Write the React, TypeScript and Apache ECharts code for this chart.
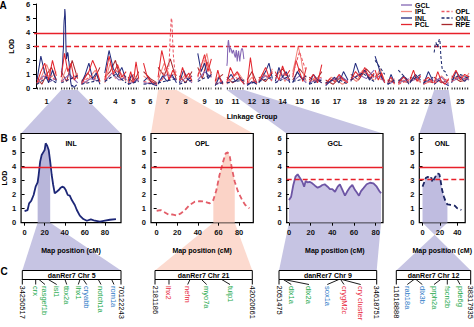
import React, { useEffect, useRef } from 'react';
import * as echarts from 'echarts';

const FONT = '"Liberation Sans", Arial, Helvetica, sans-serif';

// ---------------- Panel A: genome-wide scan ----------------
const LG_NAMES = ['1','2','3','4','5','6','7','8','9','10','11','12','13','14','15','16','17','18','19','20','21','22','23','24','25'];
// extent of each linkage group along the concatenated map axis
const LG_SPANS: number[][] = [[1,21],[26,43],[47,66],[71,93],[95,106],[111,125],[126,145],[148,161],[167,181],[185,193],[197,215],[218,228],[230,244],[247,262],[265,279],[282,295],[299,322],[325,349],[350,360],[363,370],[374,385],[386,397],[400,410],[411,426],[429,447]];

// LOD values per linkage group (null = taken from the zoomed panel B curve)
const PCL_A: (number[] | null)[] = [
  [0.4,1.2,1.8,0.6,2.0,0.9],[0.8,2.5,1.2,1.8,0.6,1.0],[0.3,0.8,1.2,2.0,1.4,0.5],[0.6,2.3,1.0,1.7,0.8,1.2],[0.5,1.2,0.4,1.9,0.7],
  [1.8,0.9,0.6,0.4,0.3],[0.8,2.7,1.6,0.6,1.3,0.9],[0.6,1.5,0.8,1.1,0.5],[0.9,1.6,2.4,1.2,2.1],[0.5,1.3,0.6,0.3],
  [0.4,1.5,0.9,1.2,0.6,0.3],[0.3,2.2,0.6,0.4],[0.5,1.0,1.5,0.8,1.2],[1.2,0.6,1.6,0.9,1.3],[0.8,2.0,1.2,0.5,1.5],
  [0.6,1.0,0.4,1.7],[0.3,0.7,0.5,1.0,0.6,0.4],[0.6,1.2,0.8,1.5,0.7,1.1],[1.3,0.6,1.1,0.4],[0.5,0.8,0.3],
  [0.4,0.8,0.5],[0.6,1.3,0.5,0.9],[0.5,0.8,0.4],[0.4,1.2,0.5,0.3,0.7],[0.7,1.3,0.6,1.0,0.8],
];
const INL_A: (number[] | null)[] = [
  [0.6,2.3,1.1,0.4,1.3,0.5],null,[0.4,1.0,1.8,0.7,1.1,0.3],[1.1,2.7,1.4,0.9,1.5,0.6],[0.3,1.0,0.5,0.8],
  [0.5,0.8,0.3,0.2],[0.3,0.9,0.5,1.0,0.4],[0.4,1.3,0.6,0.9],[2.5,1.2,1.8,0.7,1.0],[0.2,0.8,0.4],
  [0.6,1.0,0.5,0.8,0.3],[0.2,0.5,0.3],[0.4,0.8,1.2,1.8,0.7],[0.5,1.5,0.8,1.2,0.4],[0.4,1.2,0.7,0.9],
  [0.3,1.0,0.6,0.4],[0.2,0.5,0.8,0.4,1.2,0.6],[0.5,1.8,0.9,1.3,0.6,1.0],[2.3,1.6,0.8,0.5],[0.3,1.0,0.4],
  [0.5,0.9,0.3],[0.4,1.0,0.6],[0.3,1.2,0.5],[0.3,0.6,0.4,0.2],[0.4,1.2,0.8,0.5,0.9],
];
const IPL_A: (number[] | null)[] = [
  [0.3,0.9,1.7,0.8,1.2],[0.5,1.5,0.7,1.1],[0.6,0.4,0.9,1.3,0.5],[0.4,1.8,0.7,1.1,0.5],[0.6,1.0,0.5],
  [0.9,0.5,0.4],[0.6,1.8,0.8,1.2],[0.5,1.0,0.6],[1.0,1.4,2.5,0.8],[0.4,0.9,0.3],
  [0.3,0.8,1.1,0.5],[0.4,0.8,0.3],[0.6,1.1,0.7,1.4],[0.7,1.3,0.5,1.0],[1.2,2.0,3.0,2.2,1.0,0.5],
  [0.5,0.8,0.4],[0.4,0.8,0.6,0.3,0.5],[0.8,0.5,1.3,0.9,0.6],[0.6,1.4,0.5],[0.4,0.7],
  [0.3,0.6,0.4],[0.5,0.9,0.4],[0.3,0.6],[0.3,0.9,0.4],[0.6,0.9,0.5,1.1],
];
const RPE_A: (number[] | null)[] = [
  [0.8,0.3,1.0,1.5,0.6],[1.2,0.5,2.0,0.7],[0.5,1.1,0.6,1.5],[0.8,1.2,2.0,0.6,0.9],[0.8,0.4,1.2],
  [1.2,0.7,0.4],[1.5,0.9,2.1,0.6],[0.9,0.4,1.2],[1.5,0.7,1.9,1.1],[0.6,1.0],
  [0.8,0.4,0.7,0.5],[0.6,1.2,0.4],[0.8,0.5,1.1],[0.9,1.4,0.6],[0.6,1.4,0.8],
  [0.8,0.5,1.2],[0.6,0.3,0.8,0.5],[1.0,0.6,1.4,0.8],[0.8,1.1,0.5],[0.6,0.4],
  [0.6,0.4],[0.8,0.5],[0.6,0.4],[0.8,0.4,0.6],[0.9,0.5,0.7],
];
const GCL_A: (number[] | null)[] = [
  [0.4,0.9,0.5,0.7],[0.5,1.0,0.4],[0.3,0.7,0.5],[0.5,1.1,0.6,0.8],[0.3,0.6],
  [0.4,0.3],[0.5,1.0,0.6],[0.3,0.8,0.4],[0.6,1.2,0.8],[0.3,0.5],
  null,[0.3,0.5],[0.5,0.9,0.6],[0.4,0.8,0.5],[0.5,0.9,0.4],
  [0.4,0.7],[0.3,0.6,0.9,0.5],[0.6,1.0,0.7,1.3],[0.7,0.9,0.4],[0.3,0.5],
  [0.4,0.7],[0.5,0.8],[0.4,0.7],[0.5,0.8,0.3],[0.5,0.8,0.6],
];
const OPL_A: (number[] | null)[] = [
  [0.4,1.0,0.6],[0.5,0.8],[0.4,0.9,0.5],[0.6,1.3,0.7],[0.4,0.7],
  [0.5,0.3],null,[0.6,0.9],[0.8,2.3,1.0],[0.3,0.6],
  [0.5,0.8,0.4],[0.4,0.6],[0.6,1.0,0.5],[0.7,1.1,0.6],[1.0,2.6,1.2],
  [0.5,0.8],[0.4,0.7,0.5],[0.6,1.2,0.8],[0.9,0.5],[0.4,0.6],
  [0.3,0.6],[0.5,0.9],[0.3,0.6],[0.4,0.7],[0.5,0.9,0.6],
];
const ONL_A: (number[] | null)[] = [
  [0.3,0.8,0.4],[0.4,0.9],[0.3,0.6],[0.5,1.0,0.4],[0.3,0.5],
  [0.3,0.4],[0.4,0.7],[0.3,0.6],[0.5,1.0],[0.3,0.4],
  [0.4,0.6],[0.3,0.5],[0.5,0.8],[0.4,0.9],[0.5,0.7],
  [0.3,0.6],[0.4,0.7,0.3],[0.6,1.1,0.5],[2.0,1.0],[0.3,0.6],
  [1.3,0.5],[0.5,1.0],[0.4,0.8],null,[0.6,1.0,0.7],
];
const A_THRESH_SOLID = 3.93;
const A_THRESH_DASHED = 3.0;

// ---------------- Panel B: single linkage groups (cM, LOD) ----------------
const INL_B = [[0,0.83],[3,0.9],[4.5,1.37],[6.5,1.54],[9,1.97],[11,2.56],[13,2.87],[14,3.39],[15.5,4.34],[17,4.81],[19,5.05],[20,5.17],[21,5.64],[22.5,5.47],[24,5.17],[25.5,4.34],[27,3.39],[28.5,2.68],[30,2.09],[32,2.2],[34,2.32],[36,2.49],[37.5,2.56],[39.5,2.49],[41,2.32],[43,1.97],[45,1.92],[47,1.61],[50,1.26],[52,0.9],[55,0.5],[58.5,0.26],[62,0.14],[66,0.24],[70,0.14],[75,0.07],[80,0.14],[85,0.21],[91,0.26]];
const OPL_B = [[0,0.85],[4,0.9],[8,0.73],[12,0.55],[15,0.59],[19.5,0.5],[23.5,0.66],[27.5,0.9],[32,1.26],[37,1.49],[42,1.54],[47,1.49],[51.5,1.37],[55,1.61],[58,2.32],[61,3.39],[64.5,4.34],[67,4.93],[69,5.0],[71,4.7],[73,3.86],[75.8,2.91],[79,2.2],[83,1.61],[86,1.26],[90,1.02]];
const GCL_B = [[0,1.61],[2,1.85],[4,2.68],[6,3.27],[8,3.44],[10,3.2],[12.3,2.91],[14,2.56],[15.4,2.96],[17,2.87],[19,2.91],[21.5,2.8],[24,2.63],[26.5,2.49],[28.6,2.56],[30.8,2.68],[33,2.73],[35.7,2.56],[37.8,2.39],[40,2.39],[42.5,2.2],[45,2.56],[47,2.73],[49,2.39],[51.7,1.92],[54,2.25],[56,2.49],[58.5,2.68],[61,2.32],[62.5,2.16],[64.6,1.92],[66.5,2.25],[68.6,2.44],[71.7,2.73],[74.8,2.84],[78,2.8],[81,2.56],[83.4,2.25],[85,2.09]];
const ONL_B = [[0,2.56],[2.2,2.91],[4,3.2],[6.2,3.27],[8.3,3.1],[10.2,3.2],[11.4,2.87],[13.2,3.1],[15.4,3.34],[17.5,3.5],[19.4,3.44],[20.6,3.03],[22.5,2.32],[24.6,1.85],[26.8,1.45],[28.6,1.3],[32.3,1.26],[36.9,1.21],[40,1.02],[44.6,0.9]];
const INL_INTERVAL = [13, 25.5];
const OPL_INTERVAL = [55, 75.8];
const GCL_INTERVAL = [0, 85];
const ONL_INTERVAL = [0, 28.6];
const B_THRESH_SOLID = 3.93;
const B_THRESH_DASHED = 3.1;
const B_TICKS = [0, 20, 40, 60, 80];
const B_YTICKS = [0, 1, 2, 3, 4, 5, 6];

// ---------------- Panel C: syntenic zebrafish chromosome regions ----------------
const CHR_NAMES = ['danRer7 Chr 5', 'danRer7 Chr 21', 'danRer7 Chr 9', 'danRer7 Chr 12'];
const CHR_START = [34250517, 2181186, 2051475, 11618888];
const CHR_END = [70122243, 42020661, 34618751, 38317935];
const CHR5_GENES = ['crx', 'rasgef1b', 'isl1', 'tbx2a', 'lhx1', 'cryabb', 'notch1a', 'rom1a'];
const CHR5_MB = [39.12, 40.32, 43.7, 49.77, 55.22, 56.42, 61.87, 66.74];
const CHR5_KIND = ['g', 'g', 'g', 'g', 'g', 'b', 'g', 'b'];
const CHR21_GENES = ['lhx2', 'nefm', 'myo7a', 'tulp1'];
const CHR21_MB = [7.91, 16.51, 21.22, 29.49];
const CHR21_KIND = ['r', 'r', 'g', 'g'];
const CHR9_GENES = ['dlx1a', 'dlx2a', 'sox1a', 'crygM2c', 'cry cluster'];
const CHR9_MB = [3.48, 3.72, 22.0, 22.6, 23.0];
const CHR9_KIND = ['g', 'g', 'b', 'r', 'r'];
const CHR12_GENES = ['rab18a', 'dlx3b', 'prph2a', 'fscn2b', 'pde6g'];
const CHR12_MB = [17.97, 18.69, 27.55, 29.92, 33.51];
const CHR12_KIND = ['b', 'b', 'g', 'g', 'g'];
// label placement along the chromosome (layout, in Mb)
const CHR_LABEL_MB = [
  [39.12, 42.5, 46.75, 50.4, 54.6, 57.65, 62.85, 67.57],
  [7.91, 15.57, 23.35, 32.89],
  [6.15, 12.05, 18.15, 23.72, 29.28],
  [15.57, 20.95, 25.15, 29.92, 34.48],
];

const KIND_COLOR: Record<string, string> = { g: '#21a84a', b: '#2a78c6', r: '#e8283c' };

// ---------------- styling / layout ----------------
const A_SERIES = [
  { name: 'RPE', data: RPE_A, color: '#a8282c', type: 'solid' },
  { name: 'IPL', data: IPL_A, color: '#f2877e', type: 'solid' },
  { name: 'GCL', data: GCL_A, color: '#8466b4', type: 'solid' },
  { name: 'INL', data: INL_A, color: '#232c7e', type: 'solid' },
  { name: 'PCL', data: PCL_A, color: '#e3262e', type: 'solid' },
  { name: 'OPL', data: OPL_A, color: '#ea5a66', type: 'dashed' },
  { name: 'ONL', data: ONL_A, color: '#1e2a6e', type: 'dashed' },
];
const RED = '#e8202a';

const B_PANELS = [
  { name: 'INL', data: INL_B, band: INL_INTERVAL, lg: 1, left: 21, width: 100, min: -3.5, max: 96, color: '#1d2777', dashed: false, fill: '#b8b6da', wedge: '#c6c4e3', thr2: false, cross: false, wedgeTo: 96, yName: true },
  { name: 'OPL', data: OPL_B, band: OPL_INTERVAL, lg: 6, left: 151, width: 102.3, min: -5.5, max: 93.8, color: '#e35e69', dashed: true, fill: '#fbd3c7', wedge: '#fcdacf', thr2: false, cross: false, wedgeTo: 93.8, yName: false },
  { name: 'GCL', data: GCL_B, band: GCL_INTERVAL, lg: 10, left: 286.7, width: 96.3, min: -2.1, max: 86.8, color: '#6d55a5', dashed: false, fill: '#cbc6e5', wedge: '#c6c4e3', thr2: true, cross: false, wedgeTo: 86.8, yName: false },
  { name: 'ONL', data: ONL_B, band: ONL_INTERVAL, lg: 23, left: 419.3, width: 57, min: -3.7, max: 49, color: '#1b2462', dashed: true, fill: '#bfbce0', wedge: '#c6c4e3', thr2: true, cross: true, wedgeTo: 38, yName: false },
];
const B_TOP = 133.5, B_HEIGHT = 89.2, B_YMAX = 6.34;
const C_BOXES = [
  { left: 22.3, width: 98.7 },
  { left: 155, width: 97.3 },
  { left: 279, width: 97.7 },
  { left: 396.3, width: 74.4 },
];
const C_TOP = 270.5, C_HEIGHT = 9;
const C_GENES = [
  { genes: CHR5_GENES, mb: CHR5_MB, kind: CHR5_KIND },
  { genes: CHR21_GENES, mb: CHR21_MB, kind: CHR21_KIND },
  { genes: CHR9_GENES, mb: CHR9_MB, kind: CHR9_KIND },
  { genes: CHR12_GENES, mb: CHR12_MB, kind: CHR12_KIND },
];

function buildA(values: (number[] | null)[], panel?: { lg: number; data: number[][]; max: number }) {
  const out: any[] = [];
  values.forEach((vals, i) => {
    const [s, e] = LG_SPANS[i];
    if (vals === null && panel) {
      panel.data.forEach(([cm, lod]) => out.push([s + ((e - s) * cm) / panel.max, lod]));
    } else if (vals) {
      vals.forEach((v, j) => out.push([s + ((e - s) * j) / (vals.length - 1), v]));
    }
    out.push([e + 0.5, '-']);
  });
  return out;
}

function thresholdSeries(xi: number, values: number[], dashedFrom: number) {
  // horizontal significance thresholds drawn as markLines on an empty series
  return values.map((v, i) => ({
    type: 'line', xAxisIndex: xi, yAxisIndex: xi, data: [], silent: true, z: 6,
    markLine: {
      silent: true, symbol: ['none', 'none'], label: { show: false }, animation: false,
      lineStyle: { color: RED, width: 1.3, type: i >= dashedFrom ? [5, 3] : 'solid', opacity: 1 },
      emphasis: { disabled: true },
      data: [{ yAxis: v }],
    },
  }));
}

function buildOption() {
  const centers = LG_SPANS.map(([s, e]) => (s + e) / 2);
  const grids: any[] = [{ left: 20, top: 3.3, width: 450, height: 85.2 }];
  const xAxes: any[] = [{
    gridIndex: 0, type: 'value', min: -2, max: 448,
    axisLine: { show: false }, axisTick: { show: false }, splitLine: { show: false },
    axisLabel: {
      customValues: centers, fontSize: 7.5, fontWeight: 'bold', color: '#111', margin: 9, fontFamily: FONT,
      formatter: (v: number) => { const i = centers.findIndex((c) => Math.abs(c - v) < 1e-6); return i >= 0 ? LG_NAMES[i] : ''; },
    },
    name: 'Linkage Group', nameLocation: 'middle', nameGap: 24,
    nameTextStyle: { fontSize: 7.2, fontWeight: 'bold', color: '#000', fontFamily: FONT },
  }];
  const yAxes: any[] = [{
    gridIndex: 0, type: 'value', min: 0, max: 6, interval: 1,
    axisLine: { show: true, lineStyle: { color: '#000', width: 1 } },
    axisTick: { show: true, length: 3, lineStyle: { color: '#000' } },
    axisLabel: { fontSize: 7.5, fontWeight: 'bold', color: '#111', margin: 4, fontFamily: FONT },
    splitLine: { show: false },
    name: 'LOD', nameLocation: 'middle', nameGap: 12, nameRotate: 90,
    nameTextStyle: { fontSize: 7, fontWeight: 'bold', color: '#000', fontFamily: FONT },
  }];
  const series: any[] = [];

  // rug of markers
  const rug: any[] = [];
  LG_SPANS.forEach(([s, e]) => { rug.push([s, 0]); rug.push([e, 0]); rug.push([e + 0.5, '-']); });
  series.push({ type: 'line', xAxisIndex: 0, yAxisIndex: 0, data: rug, symbol: 'none', silent: true, clip: false, z: 1,
    lineStyle: { color: '#111', width: 2.2, type: [1, 1.6] } });

  A_SERIES.forEach((s, idx) => {
    const panel = B_PANELS.find((p) => p.name === s.name);
    series.push({
      type: 'line', xAxisIndex: 0, yAxisIndex: 0, name: s.name, symbol: 'none', silent: true, z: 3 + idx,
      data: buildA(s.data, panel),
      lineStyle: { color: s.color, width: 1.05, type: s.type === 'dashed' ? [3, 2] : 'solid' },
    });
  });
  series.push(...thresholdSeries(0, [A_THRESH_SOLID, A_THRESH_DASHED], 1));

  B_PANELS.forEach((p, k) => {
    const g = k + 1;
    grids.push({ left: p.left, top: B_TOP, width: p.width, height: B_HEIGHT, show: true, borderColor: '#000', borderWidth: 1.2, backgroundColor: 'transparent' });
    xAxes.push({
      gridIndex: g, type: 'value', min: p.min, max: p.max,
      axisLine: { show: false }, splitLine: { show: false },
      axisTick: { show: true, length: 3, customValues: B_TICKS.filter((t) => t <= p.max), lineStyle: { color: '#000' } },
      axisLabel: { customValues: B_TICKS.filter((t) => t <= p.max - 3), fontSize: 7.5, fontWeight: 'bold', color: '#111', margin: 6, fontFamily: FONT },
      name: 'Map position (cM)', nameLocation: 'middle', nameGap: 24,
      nameTextStyle: { fontSize: 7, fontWeight: 'bold', color: '#000', fontFamily: FONT },
    });
    yAxes.push({
      gridIndex: g, type: 'value', min: 0, max: B_YMAX,
      axisLine: { show: false }, splitLine: { show: false },
      axisTick: { show: true, length: 3, customValues: B_YTICKS, lineStyle: { color: '#000' } },
      axisLabel: { customValues: B_YTICKS, fontSize: 7.5, fontWeight: 'bold', color: '#111', margin: 5, fontFamily: FONT },
      name: p.yName ? 'LOD' : '', nameLocation: 'middle', nameGap: 13, nameRotate: 90,
      nameTextStyle: { fontSize: 7, fontWeight: 'bold', color: '#000', fontFamily: FONT },
    });
    const bandData = p.data.filter(([cm]) => cm >= p.band[0] && cm <= p.band[1]);
    series.push({
      type: 'line', xAxisIndex: g, yAxisIndex: g, data: bandData, symbol: 'none', silent: true, z: 1,
      lineStyle: { width: 0, color: p.fill }, areaStyle: { color: p.fill, opacity: 1 },
    });
    series.push({
      type: 'line', xAxisIndex: g, yAxisIndex: g, data: p.data, symbol: 'none', silent: true, z: 4,
      lineStyle: { color: p.color, width: 1.8, type: p.dashed ? [5, 3] : 'solid' },
    });
    series.push(...thresholdSeries(g, p.thr2 ? [B_THRESH_SOLID, B_THRESH_DASHED] : [B_THRESH_SOLID], 1));
  });

  C_BOXES.forEach((b, k) => {
    const g = 5 + k;
    grids.push({ left: b.left, top: C_TOP, width: b.width, height: C_HEIGHT, show: true, borderColor: '#000', borderWidth: 1, backgroundColor: '#fff' });
    xAxes.push({ gridIndex: g, type: 'value', min: CHR_START[k] / 1e6, max: CHR_END[k] / 1e6, show: false });
    yAxes.push({ gridIndex: g, type: 'value', min: 0, max: 1, show: false });
    series.push({ type: 'scatter', xAxisIndex: g, yAxisIndex: g, symbolSize: 0, silent: true,
      data: [[CHR_START[k] / 1e6, 0], [CHR_END[k] / 1e6, 1]] });
  });

  return {
    animation: false,
    backgroundColor: '#fff',
    textStyle: { fontFamily: FONT },
    grid: grids, xAxis: xAxes, yAxis: yAxes, series,
  };
}

function buildGraphics(chart: any) {
  const els: any[] = [];
  const P = (g: number, pt: number[]) => chart.convertToPixel({ gridIndex: g }, pt) as number[];
  const txt = (x: number, y: number, text: string, size: number, opts: any = {}) => ({
    type: 'text', x, y, z: 100, silent: true, rotation: opts.rotation || 0,
    style: { text, fontSize: size, fontFamily: FONT, fontWeight: opts.bold ? 'bold' : 'normal', fill: opts.color || '#000',
      align: opts.align || 'center', verticalAlign: opts.va || 'middle' },
  });

  B_PANELS.forEach((p, k) => {
    const g = k + 1;
    const [s, e] = LG_SPANS[p.lg];
    const tl = P(0, [s, 0]);
    const tr = P(0, [e, 0]);
    const bl = P(g, [p.min, B_YMAX]);
    const br = P(g, [p.wedgeTo, B_YMAX]);
    els.push({ type: 'polygon', z: -10, silent: true,
      shape: { points: [[tl[0], tl[1] + 1.5], [tr[0], tr[1] + 1.5], br, bl] }, style: { fill: p.wedge } });
    const b0 = P(g, [p.band[0], 0]);
    const b1 = P(g, [p.band[1], 0]);
    const c0 = P(5 + k, [CHR_START[k] / 1e6, 1]);
    const c1 = P(5 + k, [CHR_END[k] / 1e6, 1]);
    const pts = p.cross ? [b0, b1, c0, c1] : [b0, b1, c1, c0];
    els.push({ type: 'polygon', z: -10, silent: true, shape: { points: pts }, style: { fill: p.wedge } });
    const t = P(g, [(p.min + p.max) / 2, B_YMAX]);
    els.push(txt(t[0], t[1] + 10, p.name, 7, { bold: true }));
  });

  C_BOXES.forEach((_, k) => {
    const g = 5 + k;
    const st = CHR_START[k] / 1e6, en = CHR_END[k] / 1e6;
    const L = P(g, [st, 0]);
    const R = P(g, [en, 0]);
    const T = P(g, [st, 1]);
    els.push(txt((L[0] + R[0]) / 2, (L[1] + T[1]) / 2 + 0.3, CHR_NAMES[k], 7, { bold: true, color: '#000' }));
    [[L, String(CHR_START[k])], [R, String(CHR_END[k])]].forEach(([pt, lab]: any) => {
      els.push({ type: 'line', z: 50, silent: true, shape: { x1: pt[0], y1: pt[1], x2: pt[0], y2: pt[1] + 5 }, style: { stroke: '#000', lineWidth: 1 } });
      els.push(txt(pt[0], pt[1] + 6, lab, 7.5, { rotation: -Math.PI / 2, align: 'left' }));
    });
    const cg = C_GENES[k];
    cg.genes.forEach((name, i) => {
      const a = P(g, [cg.mb[i], 0]);
      const b = P(g, [CHR_LABEL_MB[k][i], 0]);
      els.push({ type: 'line', z: 50, silent: true, shape: { x1: a[0], y1: a[1], x2: b[0], y2: b[1] + 5 }, style: { stroke: '#000', lineWidth: 0.9 } });
      els.push(txt(b[0], b[1] + 6.5, name, 7.5, { rotation: -Math.PI / 2, align: 'left', color: KIND_COLOR[cg.kind[i]] }));
    });
  });

  // legend
  const LEG = [
    { name: 'GCL', col: 0, row: 0 }, { name: 'IPL', col: 0, row: 1 }, { name: 'INL', col: 0, row: 2 }, { name: 'PCL', col: 0, row: 3 },
    { name: 'OPL', col: 1, row: 1 }, { name: 'ONL', col: 1, row: 2 }, { name: 'RPE', col: 1, row: 3 },
  ];
  const colX = [401, 441.5];
  const rowY = [5, 11.5, 18, 24.5];
  LEG.forEach((l) => {
    const s = A_SERIES.find((a) => a.name === l.name)!;
    const x = colX[l.col], y = rowY[l.row];
    els.push({ type: 'line', z: 100, silent: true, shape: { x1: x, y1: y, x2: x + 11, y2: y },
      style: { stroke: s.color, lineWidth: 1.3, lineDash: s.type === 'dashed' ? [3, 2] : null } });
    els.push(txt(x + 14, y, l.name, 7, { bold: true, align: 'left' }));
  });

  els.push(txt(-0.5, 5.5, 'A', 10, { bold: true, align: 'left' }));
  els.push(txt(0.5, 138.5, 'B', 10, { bold: true, align: 'left' }));
  els.push(txt(0.5, 271.5, 'C', 10, { bold: true, align: 'left' }));
  return els;
}

export default function App() {
  const ref = useRef<HTMLDivElement>(null);
  useEffect(() => {
    const chart = echarts.init(ref.current!, null, { renderer: 'svg' });
    chart.setOption(buildOption() as any);
    chart.setOption({ graphic: { elements: buildGraphics(chart) } } as any);
    return () => chart.dispose();
  }, []);
  return <div ref={ref} style={{ position: 'fixed', left: 0, top: 0, width: 474, height: 327, background: '#fff' }} />;
}
